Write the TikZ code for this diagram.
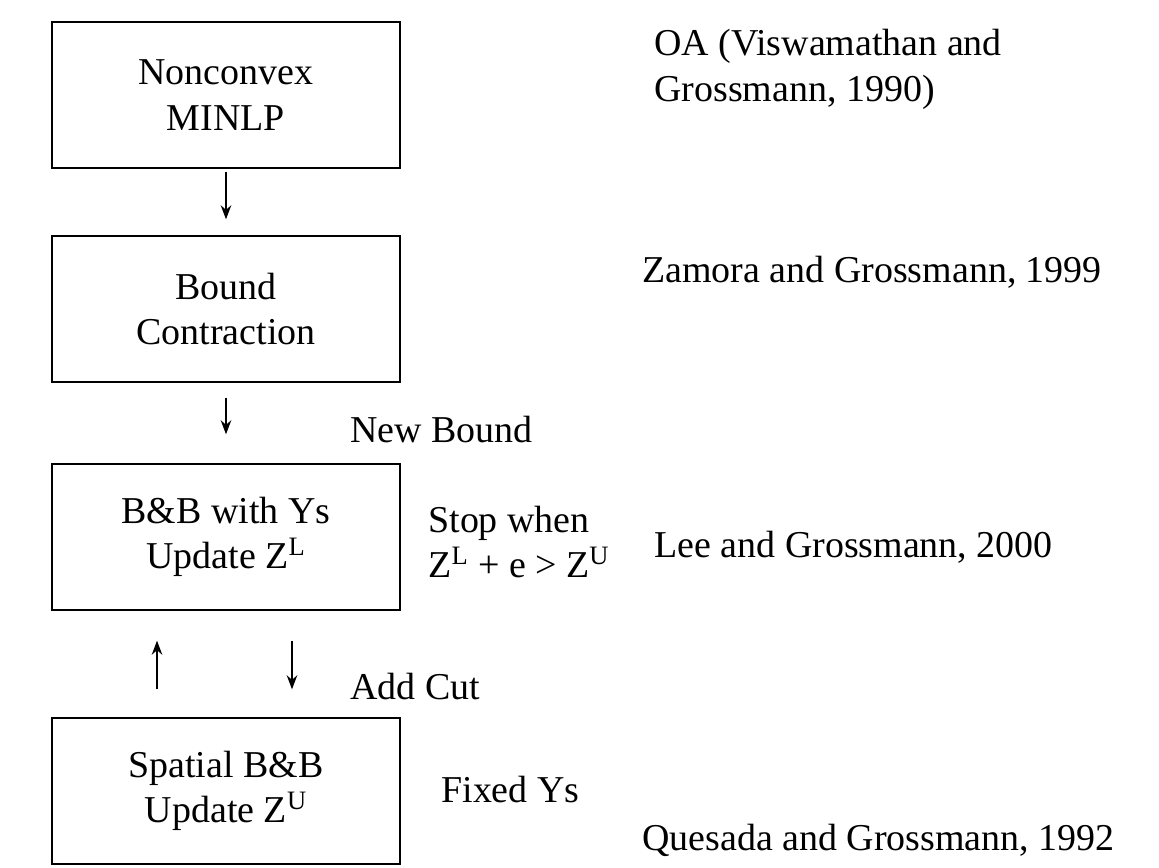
\documentclass[tikz,border=0pt]{standalone}
\usepackage{fontspec}
\setmainfont{Liberation Serif}
\usetikzlibrary{positioning, arrows.meta}

\begin{document}
\begin{tikzpicture}[
    x=0.02cm, y=-0.02cm,
    >={Stealth[length=8pt,width=6pt]},
    every node/.style={font=\fontsize{21.6}{26}\selectfont, align=center},
    box/.style={
        draw, thick, minimum width=6.96cm, minimum height=2.92cm, inner sep=0pt
    },
    note/.style={anchor=west, align=left, inner sep=0pt},
    line/.style={->, thick}
]
\useasboundingbox (0,0) rectangle (1159,868);

% --- Left column: the four stages ---
\node[box] (minlp) at (226,95) {Nonconvex\\MINLP};
\node[box] (contract) at (226,309) {Bound\\Contraction};
\node[box] (bb) at (226,537) {B\&B with Ys\\Update Z\textsuperscript{L}};
\node[box] (spatial) at (226,791) {Spatial B\&B\\Update Z\textsuperscript{U}};

% --- Labels beside the arrows ---
\node[note] (newbound) at (350,430) {New Bound};
\node[note] (stop) at (428,542) {Stop when\\Z\textsuperscript{L} + e > Z\textsuperscript{U}};
\node[note] (addcut) at (350,687) {Add Cut};
\node[note] (fixed) at (441,790) {Fixed Ys};

% --- Right column: references ---
\node[note, text depth=0pt] (oa) at (654,65) {\baselineskip=28pt OA (Viswamathan and\\Grossmann, 1990)};
\node[note] (zamora) at (642,272) {Zamora and Grossmann, 1999};
\node[note] (lee) at (654,547) {Lee and Grossmann, 2000};
\node[note] (quesada) at (642,840) {Quesada and Grossmann, 1992};

% --- Connections ---
\draw[line, shorten <=0.06cm, shorten >=0.32cm] (minlp) -- (contract);
\draw[line, shorten <=0.3cm, shorten >=0.58cm] (contract) -- (bb);
\draw[line, shorten <=0.56cm, shorten >=0.6cm]
    ([xshift=-1.38cm]spatial.north) -- ([xshift=-1.38cm]bb.south);
\draw[line, shorten <=0.6cm, shorten >=0.56cm]
    ([xshift=1.32cm]bb.south) -- ([xshift=1.32cm]spatial.north);

\end{tikzpicture}
\end{document}
